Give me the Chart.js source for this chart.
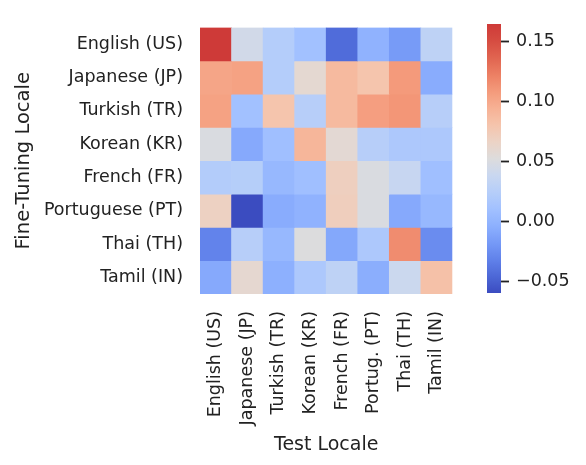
<!DOCTYPE html>
<html><head><meta charset="utf-8">
<script src="https://cdn.jsdelivr.net/npm/chart.js@4.4.1/dist/chart.umd.min.js"></script>
<style>
html,body{margin:0;padding:0;background:#fff;}
#wrap{position:relative;width:586px;height:465px;overflow:hidden;}
.box{position:absolute;top:0;}
</style></head><body>
<div id="wrap">
<div class="box" style="left:0;width:475px;height:465px"><canvas id="main" width="475" height="465"></canvas></div>
<div class="box" style="left:475px;width:111px;height:465px"><canvas id="cbar" width="111" height="465"></canvas></div>
</div>
<script>
// Test locales (columns) and fine-tuning locales (rows)
const testLocales = ['English (US)','Japanese (JP)','Turkish (TR)','Korean (KR)','French (FR)','Portug. (PT)','Thai (TH)','Tamil (IN)'];
const tuneLocales = ['English (US)','Japanese (JP)','Turkish (TR)','Korean (KR)','French (FR)','Portuguese (PT)','Thai (TH)','Tamil (IN)'];

// Values per fine-tuning row (estimated from colours)
const rowEN = [0.165, 0.044, 0.023, 0.010, -0.044, -0.002, -0.017, 0.030];
const rowJP = [0.102, 0.104, 0.023, 0.059, 0.088, 0.080, 0.109, -0.006];
const rowTR = [0.104, 0.010, 0.080, 0.025, 0.088, 0.106, 0.111, 0.025];
const rowKR = [0.050, -0.008, 0.009, 0.091, 0.058, 0.025, 0.018, 0.018];
const rowFR = [0.022, 0.024, 0.003, 0.009, 0.070, 0.050, 0.037, 0.009];
const rowPT = [0.068, -0.060, -0.006, -0.002, 0.071, 0.050, -0.008, 0.003];
const rowTH = [-0.031, 0.025, 0.003, 0.052, -0.009, 0.018, 0.116, -0.026];
const rowIN = [-0.008, 0.060, -0.004, 0.018, 0.030, -0.005, 0.040, 0.083];

// Colorbar tick values
const cbarTicks = [-0.05, 0.00, 0.05, 0.10, 0.15];

const rows = [rowEN, rowJP, rowTR, rowKR, rowFR, rowPT, rowTH, rowIN];
const allVals = rows.flat();
const vmin = Math.min(...allVals);
const vmax = Math.max(...allVals);

// coolwarm-like colormap stops
const cmapStops = [
  [0.0,59,76,192],[0.0625,77,104,215],[0.125,97,130,234],[0.1875,118,154,247],
  [0.25,141,176,254],[0.3125,162,193,255],[0.375,182,206,249],[0.4375,201,215,240],
  [0.5,221,220,220],[0.5625,236,211,197],[0.625,245,196,172],[0.6875,247,177,148],
  [0.75,244,154,123],[0.8125,236,127,99],[0.875,224,100,80],[0.9375,214,76,65],[1.0,206,58,56]
];
function cmap(v){
  let t = (v - vmin) / (vmax - vmin);
  t = Math.max(0, Math.min(1, t));
  for (let i = 1; i < cmapStops.length; i++) {
    const a = cmapStops[i-1], b = cmapStops[i];
    if (t <= b[0]) {
      const f = (t - a[0]) / (b[0] - a[0]);
      const r = Math.round(a[1] + f*(b[1]-a[1]));
      const g = Math.round(a[2] + f*(b[2]-a[2]));
      const bl = Math.round(a[3] + f*(b[3]-a[3]));
      return `rgb(${r},${g},${bl})`;
    }
  }
  return 'rgb(206,58,56)';
}

Chart.defaults.font.family = "'DejaVu Sans', sans-serif";
Chart.defaults.color = '#222222';

new Chart(document.getElementById('main'), {
  type: 'bar',
  data: {
    labels: testLocales,
    datasets: rows.map((row, r) => ({
      label: tuneLocales[r],
      data: row.map(() => [r, r + 1]),
      backgroundColor: row.map(v => cmap(v)),
      borderWidth: 0,
      grouped: false,
      barPercentage: 1,
      categoryPercentage: 1
    }))
  },
  options: {
    responsive: false,
    animation: false,
    layout: { padding: { left: 0, right: 6, top: 25, bottom: 0 } },
    plugins: { legend: { display: false }, tooltip: { enabled: false } },
    scales: {
      x: {
        grid: { display: false, drawTicks: false },
        border: { display: false },
        ticks: { autoSkip: false, maxRotation: 90, minRotation: 90, padding: 17, color: '#222222', font: { size: 17.5 } },
        title: { display: true, text: 'Test Locale', color: '#222222', font: { size: 19 }, padding: { top: 0, bottom: 9 } },
        afterFit: s => { s.height = 171; }
      },
      y: {
        type: 'linear', min: 0, max: 8, reverse: true,
        grid: { display: false, drawTicks: false },
        border: { display: false },
        afterBuildTicks: s => { s.ticks = tuneLocales.map((_, i) => ({ value: i + 0.5 })); },
        ticks: { padding: 17, color: '#222222', font: { size: 17.5 }, callback: v => tuneLocales[Math.floor(v)] },
        title: { display: true, text: 'Fine-Tuning Locale', color: '#222222', font: { size: 19.5 }, padding: { top: 12, bottom: 0 } },
        afterFit: s => { s.width = 200; }
      }
    }
  }
});

new Chart(document.getElementById('cbar'), {
  type: 'bar',
  data: {
    labels: [''],
    datasets: [{
      data: [[vmin, vmax]],
      borderWidth: 0,
      barPercentage: 1,
      categoryPercentage: 1,
      backgroundColor: (c) => {
        const chart = c.chart;
        const { ctx, chartArea, scales } = chart;
        if (!chartArea) return 'rgb(221,220,220)';
        const y0 = scales.y.getPixelForValue(vmin);
        const y1 = scales.y.getPixelForValue(vmax);
        const g = ctx.createLinearGradient(0, y0, 0, y1);
        for (let i = 0; i <= 48; i++) {
          const t = i / 48;
          g.addColorStop(t, cmap(vmin + t * (vmax - vmin)));
        }
        return g;
      }
    }]
  },
  options: {
    responsive: false,
    animation: false,
    layout: { padding: { left: 12, right: 0, top: 24, bottom: 172 } },
    plugins: { legend: { display: false }, tooltip: { enabled: false } },
    scales: {
      x: { display: false },
      y: {
        position: 'right', min: vmin, max: vmax,
        grid: { display: true, drawOnChartArea: false, drawTicks: true, tickLength: 8, tickWidth: 1.8, tickColor: '#222222' },
        border: { display: false },
        afterBuildTicks: s => { s.ticks = cbarTicks.map(v => ({ value: v })); },
        ticks: { padding: 7, color: '#222222', font: { size: 17.5 },
                 callback: v => (v < -1e-9 ? '\u2212' : '') + Math.abs(v).toFixed(2) },
        afterFit: s => { s.width = 85; }
      }
    }
  }
});
</script>
</body></html>
